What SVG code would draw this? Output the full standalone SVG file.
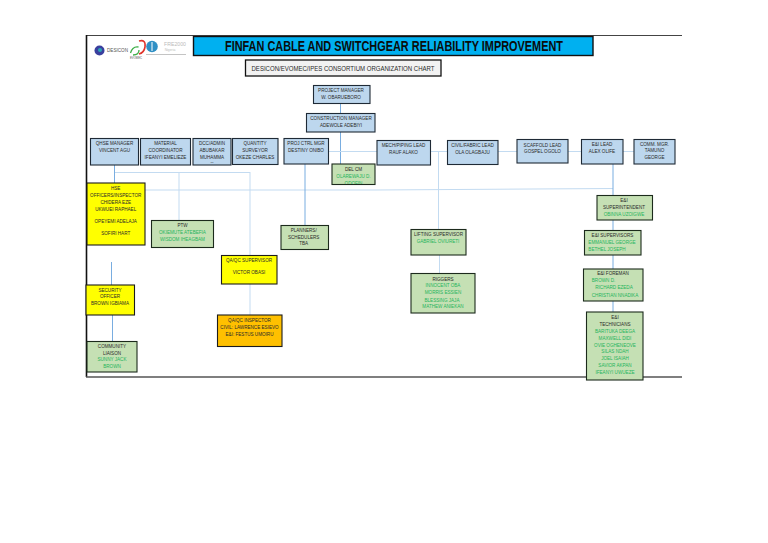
<svg xmlns="http://www.w3.org/2000/svg" width="768" height="543" viewBox="0 0 768 543">
<style>
text{font-family:"Liberation Sans",Arial,sans-serif;font-size:4.6px;fill:#2a2a2a;text-anchor:middle}
.g{fill:#1fb45c}
.b{fill:#bdd7ee;stroke:#1f2a36;stroke-width:1.1}
.n{fill:#c5e0b4;stroke:#1c2a1c;stroke-width:1.1}
.y{fill:#ffff00;stroke:#1c1c1c;stroke-width:1.1}
.o{fill:#ffc000;stroke:#1c1c1c;stroke-width:1.1}
#connectors line{stroke:#79ade0;stroke-width:1;fill:none}
#connectors .f{stroke:#c3dbf1;stroke-width:1}
</style>
<defs><clipPath id="dc"><rect x="332" y="164" width="43" height="20"/></clipPath></defs>
<rect width="768" height="543" fill="#fff"/>
<g id="frame" fill="none">
<path d="M86 35.500H682" stroke="#444" stroke-width="1"/>
<path d="M86.500 35V377" stroke="#111" stroke-width="1.600"/>
<path d="M86 377H682" stroke="#555" stroke-width="1.300"/>
</g>
<g id="logo">
<circle cx="99.500" cy="50.500" r="5" fill="#3a3f9e"/><circle cx="100" cy="50" r="2" fill="#2aa6b8"/>
<text x="117.500" y="51.800" textLength="21" lengthAdjust="spacingAndGlyphs" style="font-size:5px;fill:#555">DESICON</text>
<path d="M130.500 53q2-7 8-6M133 55q6 0 6-5" stroke="#3fae49" stroke-width="1.300" fill="none"/>
<path d="M139 41q7-2 6 6q-1 6-6 7" stroke="#e0342c" stroke-width="1.600" fill="none"/>
<text x="136" y="59" style="font-size:2.800px;fill:#555">EVOMEC</text>
<circle cx="152" cy="46.500" r="5.800" fill="#2f8fc4"/><rect x="151.500" y="42" width="1" height="9" fill="#fff"/>
<text x="175" y="45.500" textLength="22" lengthAdjust="spacingAndGlyphs" style="font-size:4.600px;fill:#bbb">FRE2000</text>
<text x="170" y="51" style="font-size:3.400px;fill:#bbb">Nigeria</text>
<rect x="146" y="54" width="40" height="1" fill="#c4c4c4"/>
</g>
<g id="connectors">
<line x1="340.500" y1="103" x2="340.500" y2="164"/>
<line class="f" x1="328" y1="151.500" x2="634" y2="151.500"/>
<line class="f" x1="438.500" y1="152" x2="438.500" y2="229"/>
<line class="f" x1="439.500" y1="255" x2="439.500" y2="273"/>
<line x1="114.500" y1="165" x2="114.500" y2="183"/>
<line class="f" x1="115" y1="172.500" x2="250" y2="172.500"/>
<line class="f" x1="179" y1="172" x2="179" y2="220"/>
<line class="f" x1="250" y1="172" x2="250" y2="315"/>
<line class="f" x1="145" y1="190" x2="375" y2="190"/>
<line class="f" x1="375" y1="190" x2="613" y2="188.500"/>
<line x1="305" y1="164" x2="305" y2="225"/>
<line x1="613" y1="164" x2="613" y2="312"/>
<line x1="111.500" y1="262" x2="111.500" y2="285"/>
<line x1="112.500" y1="315" x2="112.500" y2="341"/>
</g>
<g id="title"><rect x="193.500" y="36.500" width="399.500" height="19" fill="#00b0f0" stroke="#111" stroke-width="1.400"/>
<text x="394" y="51" textLength="338" lengthAdjust="spacingAndGlyphs" style="font-size:14px;font-weight:bold;fill:#0b0b0b">FINFAN CABLE AND SWITCHGEAR RELIABILITY IMPROVEMENT</text></g>
<g id="subtitle"><rect x="245.500" y="60" width="195.500" height="16" fill="#f2f2f2" stroke="#111" stroke-width="1.300"/>
<text x="343" y="70.500" textLength="183" lengthAdjust="spacingAndGlyphs" style="font-size:6.800px">DESICON/EVOMEC/IPES CONSORTIUM ORGANIZATION CHART</text></g>
<g id="pm"><rect class="b" x="313.500" y="85.500" width="56.500" height="18"/><text x="341" y="92">PROJECT MANAGER</text><text x="341" y="98.500">W. OBARUEBORO</text></g>
<g id="cm"><rect class="b" x="306.500" y="113.500" width="68.500" height="18.500"/><text x="341" y="120">CONSTRUCTION MANAGER</text><text x="341" y="127">ADEWOLE ADEBIYI</text></g>
<g id="qhse"><rect class="b" x="90.500" y="138.500" width="48" height="26.500"/><text x="114.500" y="145.300">QHSE MANAGER</text><text x="114.500" y="151.500">VINCENT AGU</text></g>
<g id="material"><rect class="b" x="140.500" y="138.500" width="50" height="26.500"/><text x="165.500" y="145.300">MATERIAL</text><text x="165.500" y="152.300">COORDINATOR</text><text x="165.500" y="159.300">IFEANYI EMELIEZE</text></g>
<g id="dcc"><rect class="b" x="193" y="138.500" width="38" height="26.500"/><text x="212" y="145.300">DCC/ADMIN</text><text x="212" y="152.300">ABUBAKAR</text><text x="212" y="158.500">MUHAMMA</text><text x="212" y="164">--</text></g>
<g id="qs"><rect class="b" x="232.500" y="138.500" width="45.500" height="26"/><text x="255" y="145.300">QUANTITY</text><text x="255" y="152.300">SURVEYOR</text><text x="255" y="159.300">OKEZE CHARLES</text></g>
<g id="projctrl"><rect class="b" x="284" y="138.500" width="44.500" height="25.500"/><text x="306" y="145.300">PROJ CTRL MGR</text><text x="306" y="152">DESTINY ONIBO</text></g>
<g id="delcm"><rect class="n" x="332" y="164" width="43" height="20.500"/><g clip-path="url(#dc)"><text x="353.500" y="170.700">DEL CM</text><text class="g" x="353.500" y="177.700">OLAREWAJU D.</text><text class="g" x="353.500" y="184.500">ODOFIN</text></g></g>
<g id="mech"><rect class="b" x="377" y="140.500" width="53.500" height="24.500"/><text x="403.500" y="147">MECH/PIPING LEAD</text><text x="403.500" y="154.300">RAUF ALAKO</text></g>
<g id="civil"><rect class="b" x="447.500" y="140.500" width="50.500" height="24"/><text x="472.500" y="147">CIVIL/FABRIC LEAD</text><text x="472.500" y="154.300">OLA OLAGBAJU</text></g>
<g id="scaffold"><rect class="b" x="517" y="139.500" width="51" height="23.500"/><text x="542.500" y="147">SCAFFOLD LEAD</text><text x="542.500" y="153.400">GOSPEL OGOLO</text></g>
<g id="eilead"><rect class="b" x="581.500" y="139.500" width="41.500" height="24.500"/><text x="602" y="146.300">E&amp;I LEAD</text><text x="602" y="153.300">ALEX OLIFE</text></g>
<g id="comm"><rect class="b" x="634" y="139.500" width="41" height="24.500"/><text x="654.500" y="146.300">COMM. MGR.</text><text x="654.500" y="152.300">TAMUNO</text><text x="654.500" y="159.300">GEORGE</text></g>
<g id="hse"><rect class="y" x="87" y="183" width="58" height="62"/><text x="115.700" y="189.700">HSE</text><text x="115.700" y="196.700">OFFICERS/INSPECTOR</text><text x="115.700" y="203.700">CHIDERA EZE</text><text x="115.700" y="210.700">UKWUEI RAPHAEL</text><text x="115.700" y="223">OPEYEMI ADELAJA</text><text x="115.700" y="235">SOFIRI HART</text></g>
<g id="ptw"><rect class="n" x="151.500" y="220.500" width="62" height="27"/><text x="182.500" y="227">PTW</text><text class="g" x="182.500" y="234">OKIEMUTE ATEBEFIA</text><text class="g" x="182.500" y="241">WISDOM IHEAGBAM</text></g>
<g id="planners"><rect class="n" x="281" y="225.500" width="47.500" height="24"/><text x="303.700" y="232">PLANNERS/</text><text x="303.700" y="239">SCHEDULERS</text><text x="303.700" y="245.300">TBA</text></g>
<g id="qasup"><rect class="y" x="221.500" y="255.500" width="55.500" height="28.500"/><text x="249" y="261.700">QA/QC SUPERVISOR</text><text x="249" y="273.700">VICTOR OBASI</text></g>
<g id="qainsp"><rect class="o" x="217.500" y="315" width="64.500" height="31.500"/><text x="249.500" y="322">QA/QC INSPECTOR</text><text x="249.500" y="329">CIVIL: LAWRENCE ESIEVO</text><text x="249.500" y="336">E&amp;I: FESTUS UMOIRU</text></g>
<g id="security"><rect class="y" x="86" y="285" width="48.500" height="30"/><text x="110" y="291.700">SECURITY</text><text x="110" y="297.700">OFFICER</text><text x="110" y="304.700">BROWN IGBIAMA</text></g>
<g id="community"><rect class="n" x="87" y="341.500" width="50" height="30.500"/><text x="112" y="348">COMMUNITY</text><text x="112" y="355">LIAISON</text><text class="g" x="112" y="361.300">SUNNY JACK</text><text class="g" x="112" y="368.300">BROWN</text></g>
<g id="lifting"><rect class="n" x="411" y="229.500" width="55" height="25.500"/><text x="438.500" y="235.700">LIFTING SUPERVISOR</text><text class="g" x="438" y="243">GABRIEL OVIURETI</text></g>
<g id="riggers"><rect class="n" x="411" y="273.500" width="64" height="39.500"/><text x="443" y="280.700">RIGGERS</text><text class="g" x="443" y="287.300">INNOCENT OBA</text><text class="g" x="443" y="294.300">MORRIS ESSIEN</text><text class="g" x="442" y="301.700">BLESSING JAJA</text><text class="g" x="443" y="308">MATHEW ANIEKAN</text></g>
<g id="eisuper"><rect class="n" x="597" y="195.500" width="55.500" height="24.500"/><text x="624" y="202">E&amp;I</text><text x="624" y="208.700">SUPERINTENDENT</text><text class="g" x="624" y="216">OBINNA UZOIGWE</text></g>
<g id="eisup"><rect class="n" x="584.500" y="230.500" width="56.500" height="24.500"/><text x="612.500" y="237">E&amp;I SUPERVISORS</text><text class="g" x="612" y="244.300">EMMANUEL GEORGE</text><text class="g" x="607" y="251.300">BETHEL JOSEPH</text></g>
<g id="foreman"><rect class="n" x="583.500" y="269" width="59.500" height="32"/><text x="613" y="275.300">E&amp;I FOREMAN</text><text class="g" x="603.500" y="282.300">BROWN D.</text><text class="g" x="614" y="289.300">RICHARD EZEDA</text><text class="g" x="615" y="296.700">CHRISTIAN NNADIKA</text></g>
<g id="tech"><rect class="n" x="586.500" y="312" width="56.500" height="68"/><text x="615" y="319">E&amp;I</text><text x="615" y="326">TECHNICIANS</text><text class="g" x="615" y="333">BARITUKA DEEGA</text><text class="g" x="615" y="340">MAXWELL DIDI</text><text class="g" x="615" y="347">OVIE OGHENEOVE</text><text class="g" x="615" y="353">SILAS NDAH</text><text class="g" x="615" y="360">JOEL ISAIAH</text><text class="g" x="615" y="367.300">SAVIOR AKPAN</text><text class="g" x="615" y="374.300">IFEANYI UWUEZE</text></g>
</svg>
